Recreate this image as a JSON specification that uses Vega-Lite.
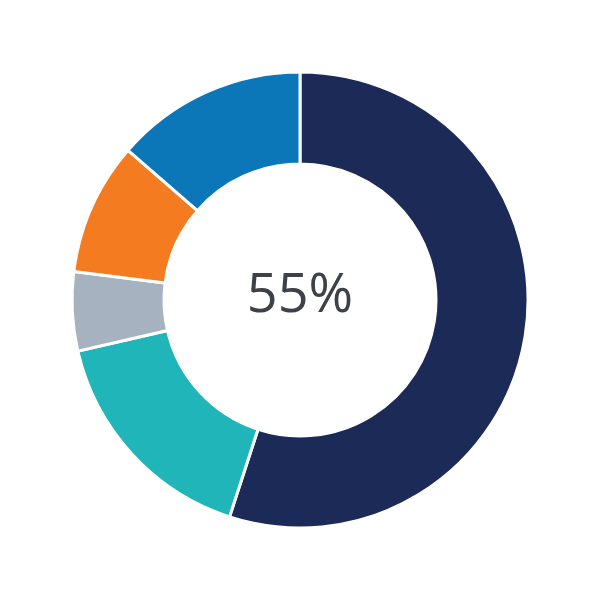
{
  "$schema": "https://vega.github.io/schema/vega-lite/v6.json",
  "width": 600,
  "height": 600,
  "autosize": {"type": "fit", "contains": "padding"},
  "padding": 0,
  "background": "white",
  "config": {"view": {"stroke": null}},
  "layer": [
    {
      "data": {
        "values": [
          {"segment": "A", "order": 1, "value": 55},
          {"segment": "B", "order": 2, "value": 16.4},
          {"segment": "C", "order": 3, "value": 5.6},
          {"segment": "D", "order": 4, "value": 9.4},
          {"segment": "E", "order": 5, "value": 13.6}
        ]
      },
      "mark": {"type": "arc", "outerRadius": 228, "innerRadius": 136, "stroke": "white", "strokeWidth": 3},
      "encoding": {
        "theta": {"field": "value", "type": "quantitative", "stack": true},
        "order": {"field": "order", "type": "quantitative"},
        "color": {
          "field": "segment",
          "type": "nominal",
          "scale": {
            "domain": ["A", "B", "C", "D", "E"],
            "range": ["#1b2a57", "#20b5b8", "#a7b2c1", "#f47b20", "#0b76b8"]
          },
          "legend": null
        }
      }
    },
    {
      "data": {"values": [{"label": "55%"}]},
      "mark": {"type": "text", "font": "Open Sans", "fontSize": 54, "color": "#3d4148", "baseline": "middle", "align": "center", "dy": -4},
      "encoding": {
        "text": {"field": "label", "type": "nominal"}
      }
    }
  ]
}
